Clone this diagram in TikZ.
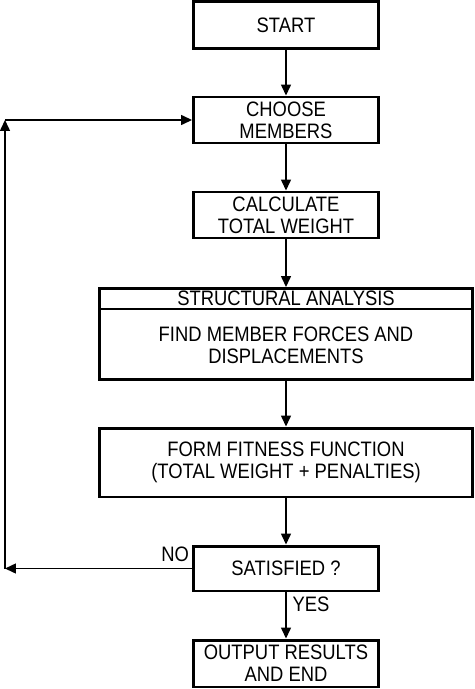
\documentclass[tikz,border=0pt]{standalone}
\usepackage{fontspec}
\setmainfont{Liberation Sans}[FakeStretch=0.88]
\usetikzlibrary{arrows.meta}

\begin{document}
\begin{tikzpicture}[x=.02cm,y=-.02cm,
    box/.style={draw,line width=1.7pt,minimum width=3.7cm,
    minimum height=.94cm,align=center,inner sep=0pt},
    wide/.style={box,minimum width=7.46cm},
    flow/.style={line width=.85pt,-{Triangle[length=2.2mm,width=2mm]}},
    font=\fontsize{11.9}{12.6}\selectfont]

  \useasboundingbox (0,0) rectangle (474,689);

  \node[box] (START) at (286,25) {START};
  \node[box,minimum height=.92cm] (CHOOSE) at (286,120) {CHOOSE\\MEMBERS};
  \node[box,minimum height=.92cm] (WEIGHT) at (286,215) {CALCULATE\\TOTAL WEIGHT};
  \node[wide,minimum height=1.82cm] (ANALYSIS) at (286,334) {};
  \node[wide,minimum height=1.38cm] (FITNESS) at (286,462.5)
    {FORM FITNESS FUNCTION\\(TOTAL WEIGHT + PENALTIES)};
  \node[box,minimum height=.9cm] (SATISFIED) at (286,568.5) {SATISFIED ?};
  \node[box] (OUTPUT) at (286,663.5) {OUTPUT RESULTS\\AND END};

  % header of the analysis box
  \coordinate (DIV) at (0,309);
  \draw[line width=.85pt] (ANALYSIS.west |- DIV) -- (ANALYSIS.east |- DIV);
  \node (TITLE) at (286,298.5) {STRUCTURAL ANALYSIS};
  \node[align=center] (FORCES) at (286,345)
    {FIND MEMBER FORCES AND\\DISPLACEMENTS};

  \draw[flow] (START) -- (CHOOSE);
  \draw[flow] (CHOOSE) -- (WEIGHT);
  \draw[flow] (WEIGHT) -- (ANALYSIS);
  \draw[flow] (ANALYSIS) -- (FITNESS);
  \draw[flow] (FITNESS) -- (SATISFIED);
  \draw[flow] (SATISFIED) -- node[right,pos=.26] (YES) {YES} (OUTPUT);

  % loop back
  \coordinate (LEFT) at (5,0);
  \draw[flow] (SATISFIED.west) -- node[above,pos=.09] (NO) {NO}
    (LEFT |- SATISFIED.west) coordinate (NOEND);
  \draw[flow] (NOEND) -- (LEFT |- CHOOSE.west) coordinate (BACK);
  \draw[flow] (BACK) -- (CHOOSE.west);

\end{tikzpicture}
\end{document}
